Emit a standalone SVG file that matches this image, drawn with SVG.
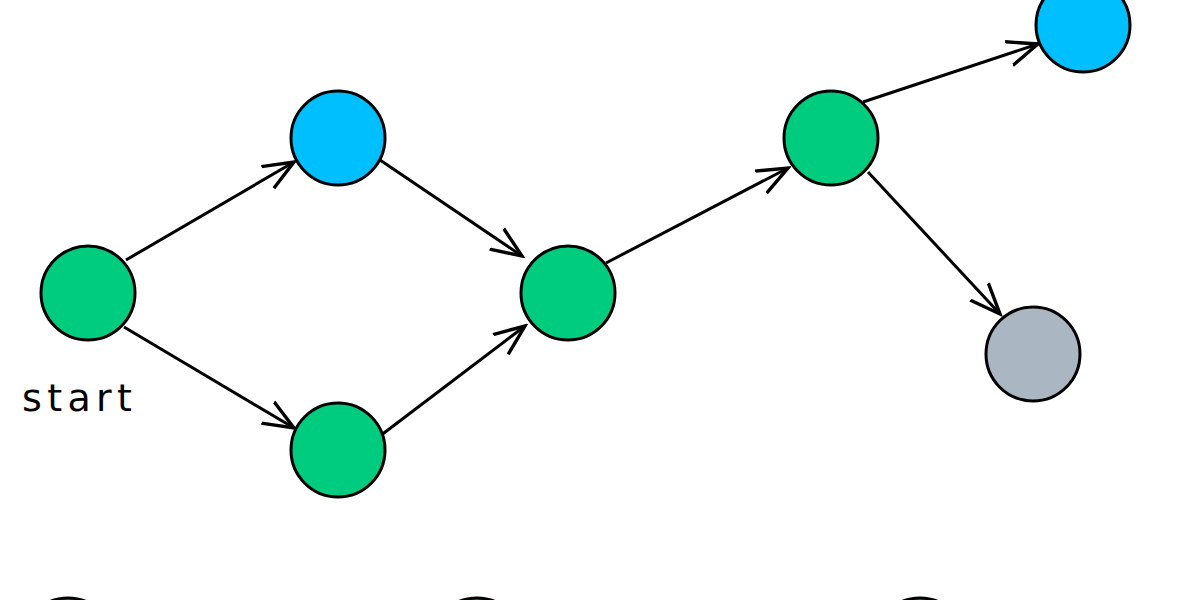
<svg xmlns="http://www.w3.org/2000/svg" width="1200" height="600" viewBox="0 0 1200 600">
<style>
.n{stroke:#000;stroke-width:3}
.g{fill:#00CC80}.b{fill:#00BFFF}.y{fill:#AAB6C2}
.e{stroke:#000;stroke-width:3;fill:none;marker-end:url(#a)}
text{font-family:"Comic Sans MS","DejaVu Sans",sans-serif;font-size:38px;fill:#000}
</style>
<defs><marker id="a" markerWidth="34" markerHeight="34" refX="27" refY="11" orient="auto" markerUnits="userSpaceOnUse" viewBox="0 0 30 22"><path d="M0,0 L27,11 L0,22" fill="none" stroke="#000" stroke-width="3"/></marker></defs>
<rect width="1200" height="600" fill="#fff"/>
<g id="edges">
<line class="e" x1="126" y1="260" x2="294" y2="162"/>
<line class="e" x1="124" y1="327" x2="294" y2="428"/>
<line class="e" x1="380" y1="160" x2="522" y2="256"/>
<line class="e" x1="380" y1="436" x2="525" y2="326"/>
<line class="e" x1="606" y1="263" x2="788" y2="168"/>
<line class="e" x1="863" y1="102" x2="1038" y2="44"/>
<line class="e" x1="868" y1="172" x2="1000" y2="314"/>
</g>
<g id="n1"><circle class="n g" cx="88" cy="293" r="47"/><text x="22" y="411" textLength="110" lengthAdjust="spacing">start</text></g>
<g id="n2"><circle class="n b" cx="338" cy="138" r="47"/></g>
<g id="n3"><circle class="n g" cx="338" cy="450" r="47"/></g>
<g id="n4"><circle class="n g" cx="568" cy="293" r="47"/></g>
<g id="n5"><circle class="n g" cx="831" cy="138" r="47"/></g>
<g id="n6"><circle class="n b" cx="1083" cy="25" r="47"/></g>
<g id="n7"><circle class="n y" cx="1033" cy="354" r="47"/></g>
<g id="n8"><circle class="n g" cx="68" cy="645" r="47"/></g>
<g id="n9"><circle class="n g" cx="477" cy="645" r="47"/></g>
<g id="n10"><circle class="n g" cx="920" cy="645" r="47"/></g>
</svg>
